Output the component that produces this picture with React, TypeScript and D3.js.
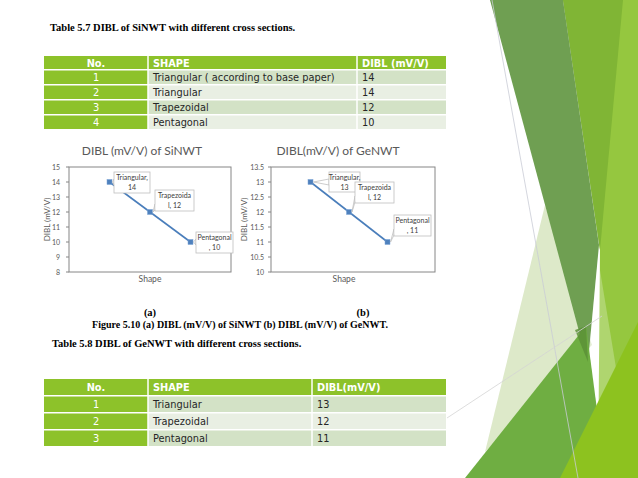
import React from "react";
import * as d3 from "d3";

// ---------- data ----------
const table1Header = ["No.", "SHAPE", "DIBL (mV/V)"];
const table1No = ["1", "2", "3", "4"];
const table1Shape = ["Triangular ( according to base paper)", "Triangular", "Trapezoidal", "Pentagonal"];
const table1Dibl = [14, 14, 12, 10];

const table2Header = ["No.", "SHAPE", "DIBL(mV/V)"];
const table2No = ["1", "2", "3"];
const table2Shape = ["Triangular", "Trapezoidal", "Pentagonal"];
const table2Dibl = [13, 12, 11];

const chartShapes = ["Triangular", "Trapezoidal", "Pentagonal"];
const siValues = [14, 12, 10];
const geValues = [13, 12, 11];
const siTicks = [8, 9, 10, 11, 12, 13, 14, 15];
const geTicks = [10, 10.5, 11, 11.5, 12, 12.5, 13, 13.5];
const siLabels = [["Triangular,", "14"], ["Trapezoida", "l, 12"], ["Pentagonal", ", 10"]];
const geLabels = [["Triangular,", "13"], ["Trapezoida", "l, 12"], ["Pentagonal", ", 11"]];

const GREEN = "#8dc22a";
const ROW_A = "#d3e2c6";
const ROW_B = "#e9efe3";
const CHART_FONT = "Lato, 'Liberation Sans', sans-serif";
const TABLE_FONT = "'DejaVu Sans', sans-serif";
const SERIF = "'Liberation Serif', 'Times New Roman', serif";

type TableProps = {
  top: number; cols: number[]; rowH: number[]; header: string[];
  no: string[]; shape: string[]; dibl: number[];
};

function Table({ top, cols, rowH, header, no, shape, dibl }: TableProps) {
  const [c0, c1, c2, c3] = cols;
  const rows: React.ReactNode[] = [];
  let y = top;
  const ys: number[] = [];
  rowH.forEach((h) => { ys.push(y); y += h + 1.5; });
  rows.push(
    <g key="h">
      <rect x={c0} y={ys[0]} width={c3 - c0} height={rowH[0]} fill={GREEN} />
      <line x1={c1} x2={c1} y1={ys[0]} y2={ys[0] + rowH[0]} stroke="#fff" strokeWidth={1.5} />
      <line x1={c2} x2={c2} y1={ys[0]} y2={ys[0] + rowH[0]} stroke="#fff" strokeWidth={1.5} />
      <text x={(c0 + c1) / 2} y={ys[0] + rowH[0] / 2 + 4} textAnchor="middle" fill="#fff" fontSize={9.8} fontWeight="bold">{header[0]}</text>
      <text x={c1 + 5} y={ys[0] + rowH[0] / 2 + 4} fill="#fff" fontSize={9.8} fontWeight="bold">{header[1]}</text>
      <text x={c2 + 5} y={ys[0] + rowH[0] / 2 + 4} fill="#fff" fontSize={9.8} fontWeight="bold">{header[2]}</text>
    </g>
  );
  no.forEach((n, i) => {
    const ry = ys[i + 1];
    const h = rowH[i + 1];
    rows.push(
      <g key={i}>
        <rect x={c0} y={ry} width={c1 - c0 - 0.75} height={h} fill={GREEN} />
        <rect x={c1 + 0.75} y={ry} width={c2 - c1 - 1.5} height={h} fill={i % 2 === 0 ? ROW_A : ROW_B} />
        <rect x={c2 + 0.75} y={ry} width={c3 - c2 - 0.75} height={h} fill={i % 2 === 0 ? ROW_A : ROW_B} />
        <text x={(c0 + c1) / 2} y={ry + h / 2 + 4} textAnchor="middle" fill="#fff" fontSize={9.8}>{n}</text>
        <text x={c1 + 5} y={ry + h / 2 + 4} fill="#262626" fontSize={9.8}>{shape[i]}</text>
        <text x={c2 + 5} y={ry + h / 2 + 4} fill="#262626" fontSize={9.8}>{dibl[i]}</text>
      </g>
    );
  });
  return <g fontFamily={TABLE_FONT}>{rows}</g>;
}

type ChartProps = {
  title: string; titleX: number; left: number; right: number; xr: [number, number];
  values: number[]; yDomain: [number, number]; ticks: number[]; labels: string[][];
  boxes: [number, number, number, number][]; yTitleX: number; shapeX: number; tickGap: number;
};

function LineChart({ title, titleX, left, right, xr, values, yDomain, ticks, labels, boxes, yTitleX, shapeX, tickGap }: ChartProps) {
  const top = 167, bottom = 272;
  const x = d3.scaleLinear().domain([0, chartShapes.length + 1]).range(xr);
  const y = d3.scaleLinear().domain(yDomain).range([bottom, top]);
  const line = d3.line<number>().x((_, i) => x(i + 1)).y((d) => y(d));
  const axisC = "#868686";
  return (
    <g fontFamily={CHART_FONT}>
      <text x={titleX} y={155} textAnchor="middle" fontSize={12} fill="#595959">{title}</text>
      <rect x={left} y={top} width={right - left} height={bottom - top} fill="#fff" stroke={axisC} strokeWidth={1} />
      {ticks.map((t) => (
        <g key={t}>
          <line x1={left - 3} x2={left} y1={y(t)} y2={y(t)} stroke={axisC} />
          <text x={left - tickGap} y={y(t) + 2.5} textAnchor="end" fontSize={7} fill="#595959">{t}</text>
        </g>
      ))}
      <text transform={`translate(${yTitleX},${(top + bottom) / 2}) rotate(-90)`} textAnchor="middle" fontSize={8} fill="#595959">DIBL (mV/V)</text>
      <text x={shapeX} y={282} textAnchor="middle" fontSize={8.5} fill="#595959">Shape</text>
      <path d={line(values) || ""} fill="none" stroke="#4a7ebb" strokeWidth={1.6} />
      {values.map((v, i) => (
        <rect key={i} x={x(i + 1) - 2.5} y={y(v) - 2.5} width={5} height={5} fill="#4f81bd" stroke="#7ba3d6" strokeWidth={0.5} />
      ))}
      {values.map((v, i) => {
        const [bx0, by0, bx1, by1] = boxes[i];
        const px = x(i + 1) + 3, py = y(v);
        const my = Math.min(Math.max(py, by0 + 4), by1 - 4);
        const wedge = `M${bx0},${my - 3} L${px},${py} L${bx0},${my + 3} Z`;
        return (
          <g key={"l" + i}>
            <path d={wedge} fill="#fff" stroke="#bfbfbf" strokeWidth={0.8} />
            <rect x={bx0} y={by0} width={bx1 - bx0} height={by1 - by0} fill="#fff" stroke="#bfbfbf" strokeWidth={0.8} />
            <rect x={bx0 + 0.6} y={my - 2.4} width={1.5} height={4.8} fill="#fff" />
            <text x={(bx0 + bx1) / 2} y={by0 + 8} textAnchor="middle" fontSize={7} fill="#404040">{labels[i][0]}</text>
            <text x={(bx0 + bx1) / 2} y={by0 + 17.5} textAnchor="middle" fontSize={7} fill="#404040">{labels[i][1]}</text>
          </g>
        );
      })}
    </g>
  );
}

function Decoration() {
  const p = (pts: number[][]) => "M" + pts.map((q) => q.join(",")).join("L") + "Z";
  return (
    <g>
      <path d={p([[563, 0], [638, 0], [638, 478], [598, 478], [600, 250]])} fill="#95c73f" />
      <path d={p([[563, 0], [623, 0], [600, 250]])} fill="#80b535" />
      <path d={p([[545, 205], [592, 345], [485, 452]])} fill="#dde9c9" />
      <path d={p([[490, 0], [563, 0], [599, 245], [588, 362], [580, 335]])} fill="#6f9f52" />
      <path d={p([[598, 258], [618, 380], [602, 440], [588, 360]])} fill="#ffffff" opacity={0.25} />
      <path d={p([[465, 478], [586, 326], [606, 478]])} fill="#6fae42" />
      <path d={p([[560, 478], [638, 322], [638, 478]])} fill="#8dc21f" />
      <path d={p([[575, 330], [588, 362], [586, 326]])} fill="#5a8f36" opacity={0.8} />
      <line x1={492} y1={0} x2={578} y2={478} stroke="#c9ccd6" strokeWidth={0.8} />
      <line x1={447} y1={418} x2={602} y2={316} stroke="#d4d4d4" strokeWidth={0.8} />
    </g>
  );
}

export default function App() {
  return (
    <svg width={638} height={478} style={{ position: "absolute", left: 0, top: 0, background: "#fff" }}>
      <rect width={638} height={478} fill="#fff" />
      <Decoration />
      <text x={50} y={31} fontFamily={SERIF} fontWeight="bold" fontSize={10.5} fill="#000">Table 5.7 DIBL of SiNWT with different cross sections.</text>
      <Table top={56} cols={[44, 148, 357, 446]} rowH={[13, 13.5, 13.5, 13.5, 13.5]} header={table1Header} no={table1No} shape={table1Shape} dibl={table1Dibl} />
      <LineChart title="DIBL (mV/V) of SiNWT" titleX={142} left={69} right={231} xr={[69, 231]} values={siValues} yDomain={[8, 15]} ticks={siTicks} labels={siLabels}
        boxes={[[114, 172, 150, 193], [155, 190, 194, 211], [196, 232, 233, 253]]} yTitleX={50} shapeX={150} tickGap={9} />
      <LineChart title="DIBL(mV/V) of GeNWT" titleX={338} left={271} right={435} xr={[272, 426]} values={geValues} yDomain={[10, 13.5]} ticks={geTicks} labels={geLabels}
        boxes={[[329, 172, 360, 192], [355, 182, 394, 203], [394, 215, 431, 236]]} yTitleX={247} shapeX={344} tickGap={7} />
      <text x={150} y={316} textAnchor="middle" fontFamily={SERIF} fontWeight="bold" fontSize={10.5}>(a)</text>
      <text x={363} y={316} textAnchor="middle" fontFamily={SERIF} fontWeight="bold" fontSize={10.5}>(b)</text>
      <text x={240} y={328} textAnchor="middle" fontFamily={SERIF} fontWeight="bold" fontSize={10}>Figure 5.10 (a) DIBL (mV/V) of SiNWT (b) DIBL (mV/V) of GeNWT.</text>
      <text x={52} y={347} fontFamily={SERIF} fontWeight="bold" fontSize={10.5}>Table 5.8 DIBL of GeNWT with different cross sections.</text>
      <Table top={379} cols={[44, 148, 312, 446]} rowH={[16, 15.5, 15.5, 15.5]} header={table2Header} no={table2No} shape={table2Shape} dibl={table2Dibl} />
    </svg>
  );
}
